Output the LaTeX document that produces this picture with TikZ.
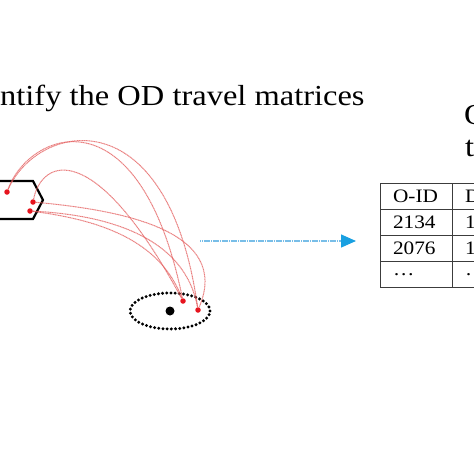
\documentclass[tikz,border=0pt]{standalone}
\usepackage{fontspec}
\setmainfont{Liberation Serif}[FakeStretch=1.12]
\usetikzlibrary{arrows.meta}
\definecolor{curvered}{RGB}{228,95,95}
\definecolor{dotred}{RGB}{230,20,30}
\definecolor{linkblue}{RGB}{120,190,232}
\definecolor{headblue}{RGB}{25,160,225}
\definecolor{gridgray}{RGB}{60,60,60}
\tikzset{
  reddot/.style={circle,fill=dotred,inner sep=0pt,minimum size=5.5pt},
  odcurve/.style={draw=curvered,line width=1pt,dash pattern=on 1.2pt off 0.5pt,opacity=0.8},
  bigtext/.style={inner sep=0pt,font=\fontsize{29}{32}\selectfont},
  cellbox/.style={draw=gridgray,line width=1.1pt,minimum height=26pt,text width=47pt,inner xsep=12.5pt,inner ysep=0pt,align=left,font=\fontsize{19}{20}\selectfont},
  cellboxr/.style={cellbox,text width=60pt}
}
\begin{document}
\begin{tikzpicture}[x=1pt,y=-1pt]
\useasboundingbox (0,0) rectangle (474,474);
% title texts
\node[bigtext,anchor=base west] (title) at (0,105) {ntify the OD travel matrices};
\node[bigtext,anchor=base west] (rtop) at (464,124) {O};
\node[bigtext,anchor=base west] (rbot) at (465,156) {t};
% hexagon (origin zone)
\draw[line width=2.2pt,line join=miter] (-12,200) -- (-2,181) -- (33,181) -- (43,200) -- (33,219) -- (-2,219) -- cycle;
% destination zone
\draw[line width=3.3pt,line cap=round,dash pattern=on 0pt off 4.2pt] (170,311) ellipse [x radius=40pt,y radius=18pt];
\node[circle,fill=black,inner sep=0pt,minimum size=9pt] (centre) at (170,311) {};
% dots
\node[reddot] (o1) at (7,192) {};
\node[reddot] (o2) at (33,202) {};
\node[reddot] (o3) at (30,211) {};
\node[reddot] (d1) at (183,301) {};
\node[reddot] (d2) at (198,310) {};
% OD curves
\draw[odcurve] (o1) .. controls (30,130) and (140,90) .. (d1);
\draw[odcurve] (o1) .. controls (38,122) and (168,95) .. (d2);
\draw[odcurve] (o2) .. controls (42,158) and (95,138) .. (d1);
\draw[odcurve] (o2) .. controls (120,210) and (232,230) .. (d2);
\draw[odcurve] (o3) .. controls (100,220) and (160,240) .. (d1);
\draw[odcurve] (o3) .. controls (110,215) and (185,238) .. (d2);
% arrow to the table
\coordinate (as) at (200,241);
\coordinate (ae) at (356,241);
\draw[draw=linkblue,line width=1.3pt,dash pattern=on 1.3pt off 0.5pt,-{Triangle[length=15pt,width=13pt,color=headblue]}] (as) -- (ae);
% table
\node[cellbox,anchor=north west] (h1) at (380,183) {O-ID};
\node[cellboxr,anchor=north west] (h2) at (452,183) {D};
\node[cellbox,anchor=north west] (a1) at (380,209) {2134};
\node[cellboxr,anchor=north west] (a2) at (452,209) {1};
\node[cellbox,anchor=north west] (b1) at (380,235) {2076};
\node[cellboxr,anchor=north west] (b2) at (452,235) {1};
\node[cellbox,anchor=north west] (c1) at (380,261) {…};
\node[cellboxr,anchor=north west] (c2) at (452,261) {…};
\end{tikzpicture}
\end{document}
